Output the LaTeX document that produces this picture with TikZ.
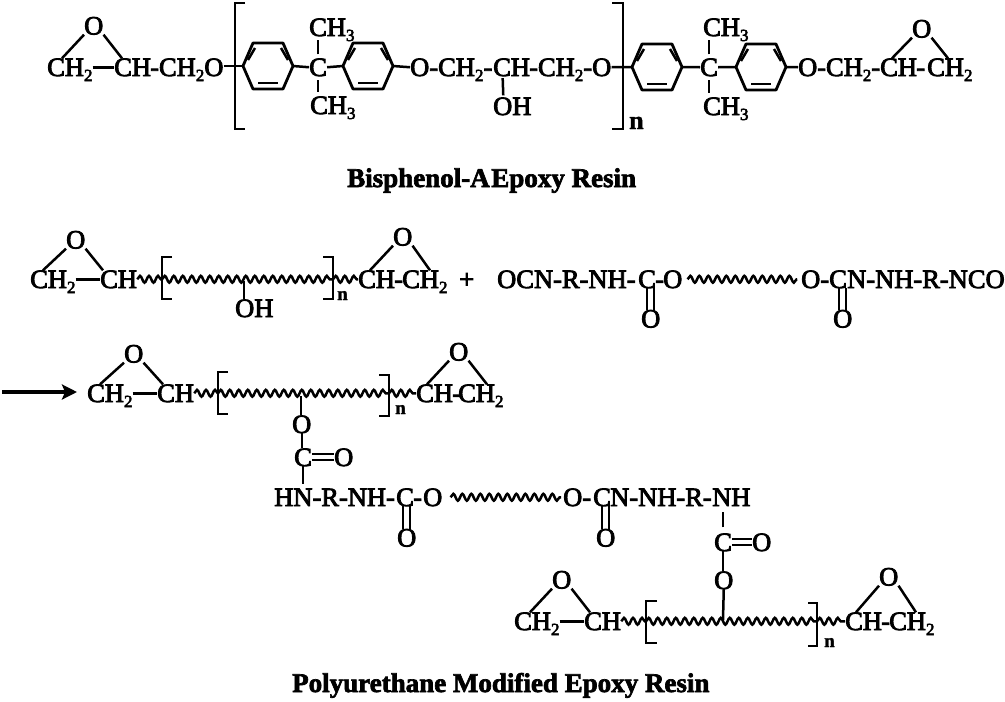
\documentclass[tikz,border=0pt]{standalone}
\usepackage{fontspec}
\usetikzlibrary{decorations.pathmorphing,arrows.meta,calc}
\setmainfont[RawFeature={embolden=3.2}]{Liberation Serif}
\newfontfamily\titlefont[RawFeature={embolden=2.5}]{Liberation Serif Bold}
\newfontfamily\nfont[RawFeature={embolden=1.5}]{Liberation Serif Bold}
\newcommand\lo[1]{\raisebox{-5pt}{\fontsize{17}{17}\selectfont #1}}
\tikzset{
  atom/.style={inner sep=0pt,anchor=base west,text height=17.5pt,text depth=0pt,font=\fontsize{26.5}{26.5}\selectfont},
  bond/.style={line width=2.5pt,draw=black},
  ringline/.style={line width=2.8pt,draw=black,line join=round},
  brackline/.style={line width=2.8pt,draw=black},
  wavy/.style={line width=2.5pt,draw=black,decorate,decoration={snake,segment length=9pt,amplitude=3.4pt,pre length=0pt,post length=0pt}},
  idx/.style={inner sep=0pt,anchor=base west,font=\nfont\fontsize{19}{19}\selectfont},
  bigidx/.style={inner sep=0pt,anchor=base west,font=\nfont\fontsize{26}{26}\selectfont},
  caption/.style={inner sep=0pt,anchor=base west,font=\titlefont\fontsize{27}{27}\selectfont},
  gapped/.style={shorten <=#1,shorten >=#1},
}
\newcommand\at[4]{\node[atom] (#1) at (#2,#3) {#4};}
\newcommand\epoxy[5]{%
  \draw[bond] (#1.south west) -- ([xshift=#3pt]#2.north west);
  \draw[bond] (#1.south east) -- ([xshift=#5pt]#4.north west);}
\newcommand\dblv[2]{% C above, O below
  \draw[line width=2pt] ([xshift=-3.5pt]#2.north) -- ([xshift=-3.5pt]#2.north |- #1.south);
  \draw[line width=2pt] ([xshift=3.5pt]#2.north) -- ([xshift=3.5pt]#2.north |- #1.south);}
\newcommand\dblh[2]{% C left, O right
  \draw[line width=2pt] ([yshift=3.2pt]#1.east) -- ([yshift=3.2pt]#2.west);
  \draw[line width=2pt] ([yshift=-3.2pt]#1.east) -- ([yshift=-3.2pt]#2.west);}
\newcommand\brk[6]{% name, x, tick x, top, bottom, mid
  \coordinate (#1) at (#2,#6);
  \coordinate (#1t) at (#3,#4);
  \coordinate (#1b) at (#3,#5);
  \draw[brackline] (#1t) -- (#2,#4) -- (#2,#5) -- (#1b);}
\newcommand\ring[3]{% name, centre x, centre y
  \coordinate (#1W) at (#2-25,#3);
  \coordinate (#1E) at (#2+25,#3);
  \draw[ringline] (#1W) -- (#2-15,#3-23) -- (#2+15,#3-23) -- (#1E) -- (#2+15,#3+23) -- (#2-15,#3+23) -- cycle;
  \draw[bond] (#2-20,#3-6) -- (#2-13,#3-18);
  \draw[bond] (#2+20,#3-6) -- (#2+13,#3-18);
  \draw[bond] (#2-10,#3+17) -- (#2+10,#3+17);}
\begin{document}
\begin{tikzpicture}[x=1pt,y=-1pt]
\useasboundingbox (0,0) rectangle (1005,702);
% ---------- Row 1
\at{aO}{84}{34.5}{O}
\at{aCHt}{47}{76}{CH\lo{2}}
\at{aCH}{114}{76}{CH}
\at{aOa}{150}{76}{-CH\lo{2}O}
\epoxy{aO}{aCHt}{15}{aCH}{8}
\draw[bond] (aCHt.east) -- (aCH.west);
\brk{aL}{235}{245}{3}{129}{66}
\ring{ra}{268}{66}
\draw[bond] (aOa.east |- raW) -- (raW);
\at{aC}{309}{76}{C}
\at{aMa}{309}{36}{CH\lo{3}}
\at{aMb}{310}{114}{CH\lo{3}}
\draw[bond] (raE) -- (aC.west);
\draw[bond,gapped=4pt] (aC.north) -- (aC.north |- aMa.south);
\draw[bond,gapped=4pt] (aC.south) -- (aC.south |- aMb.north);
\ring{rb}{368}{66}
\draw[bond] (aC.east) -- (rbW);
\at{bO}{410}{76}{O-CH\lo{2}-}
\draw[bond] (rbE) -- (bO.west);
\at{bCH}{493}{76}{CH}
\at{bOH}{493}{115}{OH}
\draw[bond,gapped=2pt] ([xshift=-9pt]bCH.south) -- ([xshift=-9pt]bOH.north);
\at{bC}{529}{76}{-CH\lo{2}-}
\at{bOe}{592}{76}{O}
\brk{aR}{623}{612}{3}{129}{66}
\node[bigidx] (nA) at (629,129) {n};
\ring{rc}{657}{67}
\draw[bond] (bOe.east) -- (rcW);
\at{cC}{700}{76}{C}
\at{cMa}{703}{36}{CH\lo{3}}
\at{cMb}{703}{115}{CH\lo{3}}
\draw[bond] (rcE) -- (cC.west);
\draw[bond,gapped=4pt] (cC.north) -- (cC.north |- cMa.south);
\draw[bond,gapped=4pt] (cC.south) -- (cC.south |- cMb.north);
\ring{rd}{761}{67}
\draw[bond] (cC.east) -- (rdW);
\at{dO}{798}{76}{O}
\draw[bond] (rdE) -- (dO.west);
\at{dA}{817}{76}{-CH\lo{2}-}
\at{dCH}{880}{76}{CH}
\at{dH}{916}{76}{-}
\at{dCHt}{927}{76}{CH\lo{2}}
\at{dOx}{912}{37.5}{O}
\epoxy{dOx}{dCH}{12}{dCHt}{21}
\node[caption] (ta) at (347,187) {Bisphenol-A\hspace{0.06em}Epoxy Resin};
% ---------- Row 2
\at{eO}{66}{248.5}{O}
\at{eCHt}{30}{288}{CH\lo{2}}
\at{eCH}{100}{288}{CH}
\epoxy{eO}{eCHt}{13}{eCH}{3}
\draw[bond] (eCHt.east) -- (eCH.west);
\brk{eL}{162}{172}{257}{299}{279.25}
\brk{eR}{333}{323}{257}{299}{279.25}
\draw[wavy] (eCH.east) -- (eL);
\draw[wavy] (eL) -- (eR);
\node[idx] (nE) at (337,300) {n};
\at{fCH}{358}{288}{CH}
\at{fH}{394}{288}{-}
\at{fCHt}{402}{288}{CH\lo{2}}
\at{fO}{393}{245.5}{O}
\epoxy{fO}{fCH}{12}{fCHt}{28}
\draw[wavy] (eR) -- (fCH.west);
\coordinate (eB) at (244,281);
\at{eOH}{235}{317}{OH}
\draw[bond] (eB) -- (eB |- eOH.north);
\at{plus}{459}{288}{+}
% Isocyanate
\at{gA}{497}{288}{OCN-R-NH-}
\at{gC}{638}{288}{C}
\at{gH}{655}{288}{-}
\at{gO}{663}{288}{O}
\at{gOd}{641}{327.5}{O}
\dblv{gC}{gOd}
\at{hO}{801}{288}{O-}
\at{hC}{829}{288}{C}
\at{hA}{847}{288}{N-NH-R-NCO}
\at{hOd}{833}{327.5}{O}
\dblv{hC}{hOd}
\draw[wavy] ([xshift=5pt]gO.east) -- ([xshift=-4pt]hO.west);
% ---------- Row 3
\coordinate (arS) at (2,392);
\coordinate (arE) at (77,392);
\draw[line width=3.8pt,-{Stealth[length=15pt,width=15pt,inset=3pt]}] (arS) -- (arE);
\at{iO}{124}{362.5}{O}
\at{iCHt}{87}{402}{CH\lo{2}}
\at{iCH}{157}{402}{CH}
\epoxy{iO}{iCHt}{13}{iCH}{6}
\draw[bond] (iCHt.east) -- (iCH.west);
\brk{iL}{218}{228}{372}{414}{393.25}
\brk{iR}{389}{379}{375}{416}{393.25}
\draw[wavy] (iCH.east) -- (iL);
\draw[wavy] (iL) -- (iR);
\node[idx] (nI) at (395,414) {n};
\at{jCH}{416}{402}{CH}
\at{jH}{452}{402}{-}
\at{jCHt}{458}{402}{CH\lo{2}}
\at{jO}{449}{360.5}{O}
\epoxy{jO}{jCH}{11}{jCHt}{29}
\draw[wavy] (iR) -- (jCH.west);
\coordinate (iB) at (301,396);
\at{kO}{292}{433}{O}
\at{kC}{294}{466}{C}
\at{kOr}{334}{466}{O}
\draw[bond] (iB) -- (iB |- kO.north);
\draw[bond] (kO.south) -- (kO.south |- kC.north);
\dblh{kC}{kOr}
% ---------- Row 4
\at{lA}{274}{506}{HN-R-NH-}
\at{lC}{396}{506}{C}
\at{lH}{413}{506}{-}
\at{lO}{423}{506}{O}
\at{lOd}{397}{546.5}{O}
\dblv{lC}{lOd}
\draw[bond,shorten >=4pt] (kC.south) -- (kC.south |- lA.north);
\at{mO}{563}{506}{O-}
\at{mC}{593}{506}{C}
\at{mA}{610}{506}{N-NH-R-}
\at{mN}{712}{506}{NH}
\at{mOd}{596}{546.5}{O}
\dblv{mC}{mOd}
\draw[wavy] ([xshift=8pt]lO.east) -- ([xshift=-2pt]mO.west);
\at{nC}{714}{551}{C}
\at{nOr}{752}{551}{O}
\draw[bond,gapped=6pt] (nC.north) -- (nC.north |- mN.south);
\dblh{nC}{nOr}
% ---------- Row 5
\at{oO}{714}{589}{O}
\draw[bond] (nC.south) -- (nC.south |- oO.north);
\coordinate (oB) at (723,620);
\draw[bond] (oO.south) -- (oB);
\at{pO}{552}{588.5}{O}
\at{pCHt}{514}{630}{CH\lo{2}}
\at{pCH}{584}{630}{CH}
\epoxy{pO}{pCHt}{16}{pCH}{6}
\draw[bond] (pCHt.east) -- (pCH.west);
\brk{pL}{646}{657}{601}{643}{621.25}
\brk{pR}{817}{808}{603}{646}{621.25}
\draw[wavy] (pCH.east) -- (pL);
\draw[wavy] (pL) -- (pR);
\node[idx] (nP) at (824,647) {n};
\at{qCH}{845}{630}{CH}
\at{qH}{881}{630}{-}
\at{qCHt}{889}{630}{CH\lo{2}}
\at{qO}{879}{585.5}{O}
\epoxy{qO}{qCH}{11}{qCHt}{27}
\draw[wavy] (pR) -- (qCH.west);
\node[caption] (tb) at (292,692) {Polyurethane Modified Epoxy Resin};
\end{tikzpicture}
\end{document}
